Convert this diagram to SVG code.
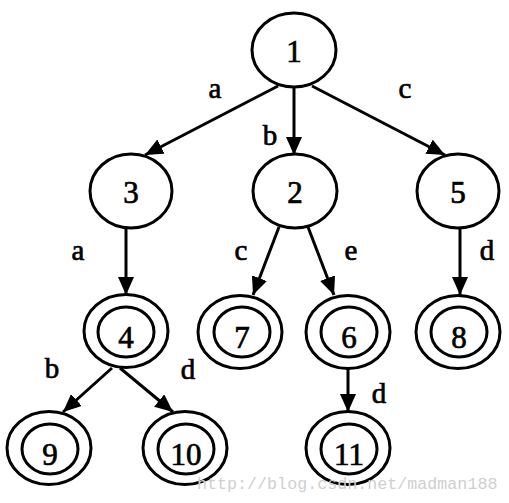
<svg xmlns="http://www.w3.org/2000/svg" width="509" height="503" viewBox="0 0 509 503">
<style>
  .o{fill:#fff;stroke:#000;stroke-width:3}
  .i{fill:none;stroke:#000;stroke-width:3}
  .t{font-family:'Liberation Serif','Times New Roman','DejaVu Serif',serif;font-size:31px;text-anchor:middle;fill:#000;stroke:#000;stroke-width:0.7}
  .l{font-family:'Liberation Serif','Times New Roman','DejaVu Serif',serif;font-size:29px;text-anchor:middle;fill:#000;stroke:#000;stroke-width:0.7}
  .e{fill:none;stroke:#000;stroke-width:3;marker-end:url(#ah)}
  .w{font-family:'Liberation Mono','Courier New',monospace;font-size:16.7px;fill:#cfcfcf}
</style>
<defs>
  <marker id="ah" markerUnits="userSpaceOnUse" markerWidth="20" markerHeight="18" refX="18" refY="8" orient="auto">
    <path d="M0,0 L18,8 L0,16 z" fill="#000"/>
  </marker>
</defs>
<rect width="509" height="503" fill="#fff"/>
<g id="connectors">
  <path class="e" d="M278,86 L145,155"/>
  <path class="e" d="M294,87 L294,155"/>
  <path class="e" d="M312,86 L445,155"/>
  <path class="e" d="M126,228 L126,295"/>
  <path class="e" d="M279,227 L253,295"/>
  <path class="e" d="M308,227 L334,295"/>
  <path class="e" d="M460,228 L460,295"/>
  <path class="e" d="M112,368 L63,412"/>
  <path class="e" d="M120,368 L173,412"/>
  <path class="e" d="M348,368 L348,412"/>
  <text class="l" x="215" y="98">a</text>
  <text class="l" x="270" y="145">b</text>
  <text class="l" x="405" y="98">c</text>
  <text class="l" x="78" y="260">a</text>
  <text class="l" x="241" y="260">c</text>
  <text class="l" x="351" y="260">e</text>
  <text class="l" x="487" y="260">d</text>
  <text class="l" x="52" y="378">b</text>
  <text class="l" x="188" y="379">d</text>
  <text class="l" x="379" y="403">d</text>
</g>
<g id="n1"><ellipse class="o" cx="294" cy="50" rx="42" ry="37"/><text class="t" x="294" y="62">1</text></g>
<g id="n3"><ellipse class="o" cx="131" cy="191" rx="41" ry="37"/><text class="t" x="131" y="203">3</text></g>
<g id="n2"><ellipse class="o" cx="295" cy="191" rx="42" ry="37"/><text class="t" x="295" y="203">2</text></g>
<g id="n5"><ellipse class="o" cx="458" cy="191" rx="41" ry="37"/><text class="t" x="458" y="203">5</text></g>
<g id="n4"><ellipse class="o" cx="126" cy="331" rx="42" ry="36.5"/><ellipse class="i" cx="126" cy="332" rx="28" ry="25"/><text class="t" x="126" y="348">4</text></g>
<g id="n7"><ellipse class="o" cx="240" cy="332" rx="42" ry="36.5"/><ellipse class="i" cx="242" cy="332" rx="28" ry="25"/><text class="t" x="242" y="348">7</text></g>
<g id="n6"><ellipse class="o" cx="348" cy="332" rx="42" ry="36.5"/><ellipse class="i" cx="349" cy="332" rx="28" ry="25"/><text class="t" x="349" y="348">6</text></g>
<g id="n8"><ellipse class="o" cx="458" cy="332" rx="42" ry="36.5"/><ellipse class="i" cx="459" cy="332" rx="28" ry="25"/><text class="t" x="459" y="348">8</text></g>
<g id="n9"><ellipse class="o" cx="49" cy="448" rx="42" ry="36.5"/><ellipse class="i" cx="50" cy="449" rx="28" ry="25"/><text class="t" x="50" y="465">9</text></g>
<g id="n10"><ellipse class="o" cx="185" cy="448" rx="42" ry="36.5"/><ellipse class="i" cx="186" cy="449" rx="28" ry="25"/><text class="t" x="186" y="465">10</text></g>
<g id="n11"><ellipse class="o" cx="348" cy="448" rx="42" ry="36.5"/><ellipse class="i" cx="349" cy="449" rx="28" ry="25"/><text class="t" x="349" y="465">11</text></g>
<text class="w" x="197" y="489">http://blog.csdn.net/madman188</text>
</svg>
